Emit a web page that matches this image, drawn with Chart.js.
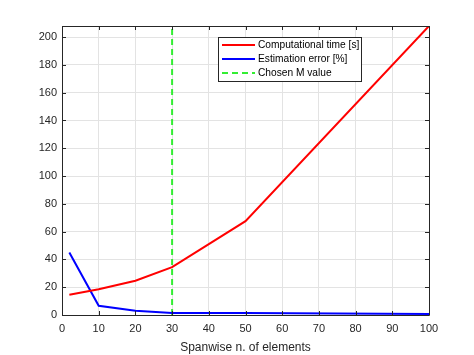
<!DOCTYPE html>
<html><head><meta charset="utf-8">
<script src="https://cdn.jsdelivr.net/npm/chart.js@4"></script>
<style>html,body{margin:0;padding:0;background:#fff}#wrap{width:474px;height:355px}</style>
</head><body><div id="wrap"><canvas id="c" width="474" height="355"></canvas></div>
<script>
const elements = [2, 10, 20, 30, 50, 100];
const compTime = [14.5, 18.5, 24.7, 34.5, 67.5, 208];
const estError = [45, 6.6, 3.0, 1.5, 1.5, 0.8];
const chosenM = 30;
const xTicks = [0,10,20,30,40,50,60,70,80,90,100];
const yTicks = [0,20,40,60,80,100,120,140,160,180,200];
const labels = ['Computational time [s]', 'Estimation error [%]', 'Chosen M value'];
const xTitle = 'Spanwise n. of elements';
const yMax = 208;

const FONT = 'Liberation Sans, Arial, sans-serif';
const boxPlugin = {
  id: 'box',
  afterDraw(chart) {
    const {ctx, chartArea: a, scales: {x, y}} = chart;
    ctx.save();
    ctx.strokeStyle = '#262626';
    ctx.lineWidth = 1;
    ctx.beginPath();
    ctx.rect(Math.round(a.left)+0.5, Math.round(a.top)+0.5, Math.round(a.right-a.left), Math.round(a.bottom-a.top));
    ctx.stroke();
    ctx.beginPath();
    const tl = 4;
    xTicks.forEach(v => {
      const px = Math.round(x.getPixelForValue(v))+0.5;
      ctx.moveTo(px, a.bottom); ctx.lineTo(px, a.bottom - tl);
      ctx.moveTo(px, a.top); ctx.lineTo(px, a.top + tl);
    });
    yTicks.forEach(v => {
      const py = Math.round(y.getPixelForValue(v))+0.5;
      ctx.moveTo(a.left, py); ctx.lineTo(a.left + tl, py);
      ctx.moveTo(a.right, py); ctx.lineTo(a.right - tl, py);
    });
    ctx.stroke();
    // legend
    const lx = 218, ly = 37, lw = 143, lh = 44;
    ctx.fillStyle = '#fff';
    ctx.fillRect(lx, ly, lw, lh);
    ctx.strokeStyle = '#262626';
    ctx.strokeRect(lx+0.5, ly+0.5, lw, lh);
    ctx.font = '10.2px ' + FONT;
    ctx.textBaseline = 'middle';
    chart.data.datasets.forEach((ds, i) => {
      const yy = ly + 8 + i * 14;
      ctx.strokeStyle = ds.borderColor;
      ctx.lineWidth = 2;
      ctx.setLineDash(ds.borderDash || []);
      ctx.beginPath(); ctx.moveTo(lx + 4, yy); ctx.lineTo(lx + 37, yy); ctx.stroke();
      ctx.setLineDash([]);
      ctx.fillStyle = '#000';
      ctx.fillText(ds.label, lx + 40, yy + 0.5);
    });
    ctx.restore();
  }
};

new Chart(document.getElementById('c'), {
  type: 'line',
  data: {
    datasets: [
      {label: labels[0], data: elements.map((e,i)=>({x:e, y:compTime[i]})), borderColor:'#ff0000', borderWidth:2, pointRadius:0, tension:0},
      {label: labels[1], data: elements.map((e,i)=>({x:e, y:estError[i]})), borderColor:'#0000ff', borderWidth:2, pointRadius:0, tension:0},
      {label: labels[2], data: [{x:chosenM, y:0},{x:chosenM, y:yMax}], borderColor:'#33ee33', borderWidth:2, borderDash:[6,4], pointRadius:0}
    ]
  },
  options: {
    responsive: false, animation: false, devicePixelRatio: 1,
    layout: {padding: {left: 0, right: 45, top: 26, bottom: 0}},
    plugins: {legend: {display: false}, tooltip: {enabled: false}},
    scales: {
      x: {
        type: 'linear', min: 0, max: 100,
        afterBuildTicks: s => { s.ticks = xTicks.map(v => ({value: v})); },
        afterFit: s => { s.height = 40; },
        grid: {color: '#e3e3e3', tickLength: 0, drawTicks: false},
        border: {display: false},
        ticks: {font: {family: FONT, size: 11}, color: '#262626', padding: 7, maxRotation: 0},
        title: {display: true, text: xTitle, font: {family: FONT, size: 12}, color: '#262626', padding: {top: 2, bottom: 0}}
      },
      y: {
        type: 'linear', min: 0, max: yMax,
        afterBuildTicks: s => { s.ticks = yTicks.map(v => ({value: v})); },
        afterFit: s => { s.width = 62; },
        grid: {color: '#e3e3e3', tickLength: 0, drawTicks: false},
        border: {display: false},
        ticks: {font: {family: FONT, size: 11}, color: '#262626', padding: 5}
      }
    }
  },
  plugins: [boxPlugin]
});
</script></body></html>
